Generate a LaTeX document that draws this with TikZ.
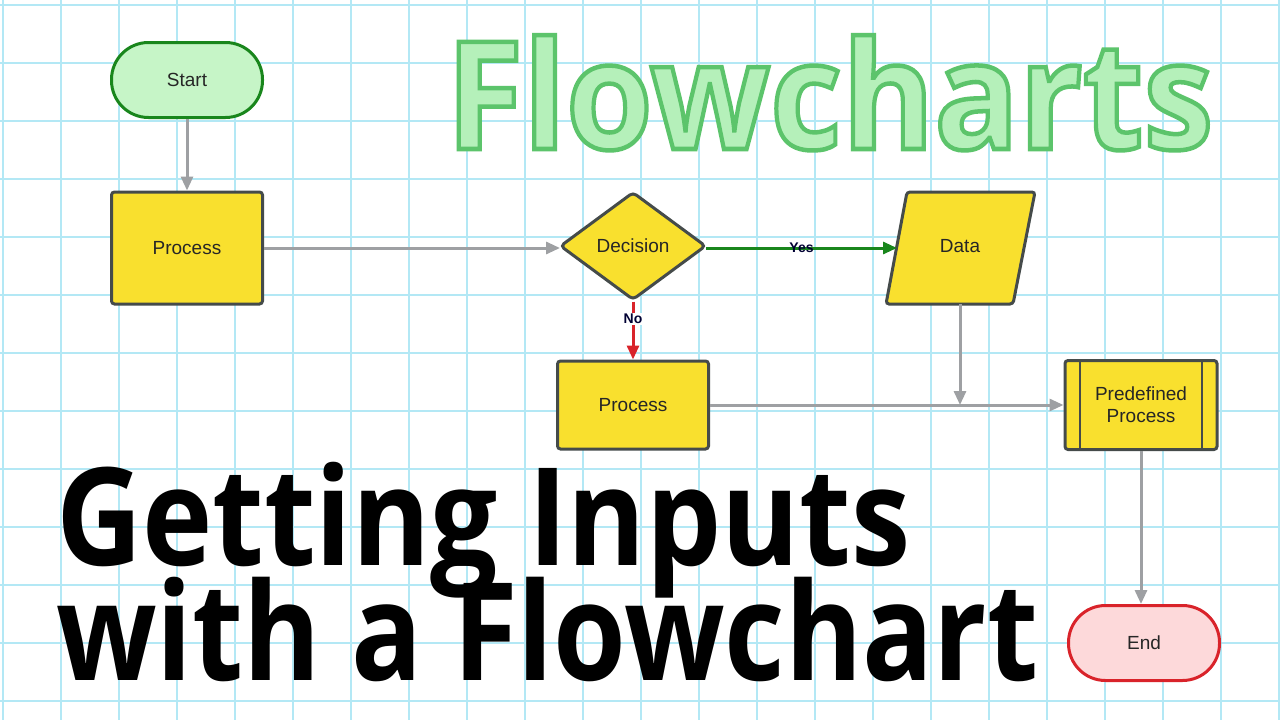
\documentclass[tikz,border=0pt]{standalone}
\usepackage{fontspec}
\setmainfont{Liberation Sans}
\newfontfamily\titlefont[BoldFont={* Bold}]{Open Sans}
\usetikzlibrary{shapes.geometric,shapes.multipart,arrows.meta}
\definecolor{gridc}{HTML}{B3E8F5}
\definecolor{yel}{HTML}{F9E02E}
\definecolor{bord}{HTML}{454B4A}
\definecolor{sfill}{HTML}{C6F5C7}
\definecolor{sbord}{HTML}{19861C}
\definecolor{efill}{HTML}{FDD9DA}
\definecolor{ebord}{HTML}{D9232A}
\definecolor{arr}{HTML}{9EA0A3}
\definecolor{ttlfill}{HTML}{B5F0BA}
\begin{document}
\begin{tikzpicture}[x=1pt,y=-1pt,
  box/.style={draw=bord,fill=yel,line width=3pt,rounded corners=3pt,font=\fontsize{19}{22}\selectfont,text=black!85},
  term/.style={draw,line width=3pt,rounded corners=37pt,minimum width=151pt,minimum height=75pt,font=\fontsize{19}{22}\selectfont,text=black!85},
  con/.style={draw=arr,line width=3pt,-{Triangle[length=14pt,width=12pt]}},
  lbl/.style={font=\bfseries\fontsize{14}{16}\selectfont,text=black!80!blue}]
\useasboundingbox (0,0) rectangle (1280,720);
\fill[white] (0,0) rectangle (1280,720);
\foreach \i in {0,...,22} \draw[gridc,line width=1.8pt] (3+58*\i,0) -- (3+58*\i,720);
\foreach \j in {0,...,12} \draw[gridc,line width=1.8pt] (0,5+58*\j) -- (1280,5+58*\j);
% titles
\node[anchor=base west,inner sep=0,text=ttlfill,font=\titlefont\bfseries\fontsize{150}{152}\selectfont] (t1) at (446,149)
  {\scalebox{0.935}[1]{\special{pdf:literal direct 2 Tr 4.5 w 0.36 0.77 0.42 RG}Flowcharts\special{pdf:literal direct 0 Tr}}};
\node[anchor=base west,inner sep=0,font=\titlefont\bfseries\fontsize{136}{140}\selectfont] (t2) at (56,565) {\scalebox{0.875}[1]{Getting Inputs}};
\node[anchor=base west,inner sep=0,font=\titlefont\bfseries\fontsize{136}{140}\selectfont] (t3) at (56,680) {\scalebox{0.865}[1]{with a Flowchart}};
% nodes
\node[term,draw=sbord,fill=sfill] (start) at (187,80) {Start};
\node[box,minimum width=151pt,minimum height=112pt] (p1) at (187,248) {Process};
\node[box,diamond,minimum width=146pt,minimum height=108pt,inner sep=0,rounded corners=4pt] (dec) at (633,246) {Decision};
\node[box,minimum width=151pt,minimum height=88pt] (p2) at (633,405) {Process};
\path[draw=bord,fill=yel,line width=3pt,rounded corners=3pt] (907,192) -- (1035,192) -- (1013,304) -- (886,304) -- cycle;
\node[font=\fontsize{19}{22}\selectfont,text=black!85] (data) at (960,246) {Data};
\coordinate (dataL) at (897,248);
\coordinate (dataB) at (960,304);
\coordinate (decE) at (706,248);
\coordinate (decW) at (560,248);
\node[box,minimum width=152pt,minimum height=89pt,align=center] (pp) at (1141,405) {Predefined\\Process};
\draw[bord,line width=2.5pt] (1080,361) -- (1080,450) (1202,361) -- (1202,450);
\node[term,draw=ebord,fill=efill] (end) at (1144,643) {End};
\coordinate (j) at (960,405);
% connectors
\draw[con] (start) -- (p1);
\draw[con] (p1.east |- decW) -- (decW);
\draw[con,draw=sbord] (decE) -- node[lbl,pos=0.5,inner sep=0]{Yes} (dataL);
\draw[con,draw=ebord] (dec.south) -- node[lbl,pos=0.3,fill=white,inner sep=1pt]{No} (p2.north);
\draw[con] (dataB) -- (j);
\draw[con] (p2.east) -- (pp.west);
\draw[con] (pp.south -| 1141,0) -- (end.north -| 1141,0);
\end{tikzpicture}
\end{document}
